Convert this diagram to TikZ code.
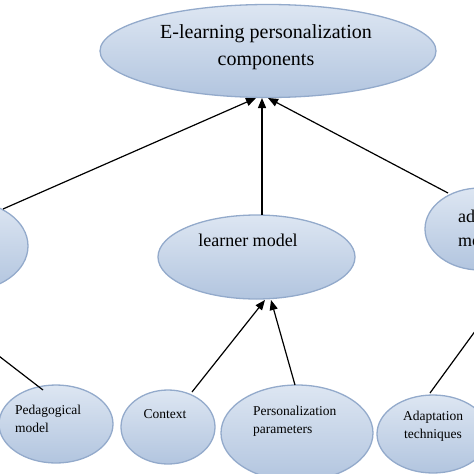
\documentclass[tikz,border=0pt]{standalone}
\usepackage{fontspec}
\setmainfont{Liberation Serif}
\usetikzlibrary{shapes.geometric,arrows.meta}
\definecolor{ellTop}{HTML}{DDE6F2}
\definecolor{ellBot}{HTML}{B2C5DF}
\definecolor{ellEdge}{HTML}{93AACB}
\tikzset{
  bubble/.style={ellipse, inner sep=0pt, top color=ellTop, bottom color=ellBot, draw=ellEdge, line width=1.3pt},
  bigtxt/.style={font=\fontsize{20}{27}\selectfont, align=center, inner sep=0pt},
  midtxt/.style={font=\fontsize{18}{24}\selectfont, align=left, inner sep=0pt},
  smalltxt/.style={font=\fontsize{13.5}{18}\selectfont, inner sep=0pt},
  link/.style={line width=1.2pt, black},
  arr/.style={link, -{Triangle[length=10pt,width=8pt]}}
}
\begin{document}
\begin{tikzpicture}[x=1pt,y=-1pt]
\useasboundingbox (0,0) rectangle (474,474);
\clip (0,0) rectangle (474,474);
% ellipses
\node[bubble, minimum width=336pt, minimum height=93pt] (top) at (268,51) {};
\node[bubble, minimum width=124pt, minimum height=90pt] (left) at (-34,246) {};
\node[bubble, minimum width=197pt, minimum height=84pt] (lm) at (256.5,257) {};
\node[bubble, minimum width=110pt, minimum height=82pt] (right) at (480,229) {};
\node[bubble, minimum width=114pt, minimum height=78pt] (ped) at (56,424) {};
\node[bubble, minimum width=94pt, minimum height=74pt] (ctx) at (168,427) {};
\node[bubble, minimum width=152pt, minimum height=96pt] (par) at (297,433) {};
\node[bubble, minimum width=112pt, minimum height=78pt] (ada) at (433,434) {};
% texts
\node[bigtxt] (toptxt) at (266,47) {E-learning personalization\\components};
\node[midtxt] (lmtxt) at (248,240) {learner model};
\node[midtxt, anchor=west] (righttxt) at (458,228) {adaptation\\model};
\node[smalltxt, align=left, anchor=west] (pedtxt) at (15,419) {Pedagogical\\model};
\node[smalltxt] (ctxtxt) at (165,414) {Context};
\node[smalltxt, align=left, anchor=west] (partxt) at (253,421) {Personalization\\parameters};
\node[smalltxt, align=center] (adatxt) at (433,426) {Adaptation\\techniques};
% connector ends
\coordinate (t1) at (256,98);
\coordinate (t2) at (262,98);
\coordinate (t3) at (268,98);
\coordinate (l1) at (265,300);
\coordinate (l2) at (271,300);
\coordinate (offL) at (-40,326);
\coordinate (offR) at (492,308);
\coordinate (lfrom) at (3,209);
\coordinate (rfrom) at (448,193);
\coordinate (mfrom) at (262,215);
\coordinate (cfrom) at (192,392);
\coordinate (pfrom) at (295,385);
\coordinate (pedto) at (43,390);
\coordinate (adafrom) at (430,393);
% connectors
\draw[arr] (lfrom) -- (t1);
\draw[arr] (mfrom) -- (t2);
\draw[arr] (rfrom) -- (t3);
\draw[arr] (cfrom) -- (l1);
\draw[arr] (pfrom) -- (l2);
\draw[link] (offL) -- (pedto);
\draw[link] (adafrom) -- (offR);
\end{tikzpicture}
\end{document}
